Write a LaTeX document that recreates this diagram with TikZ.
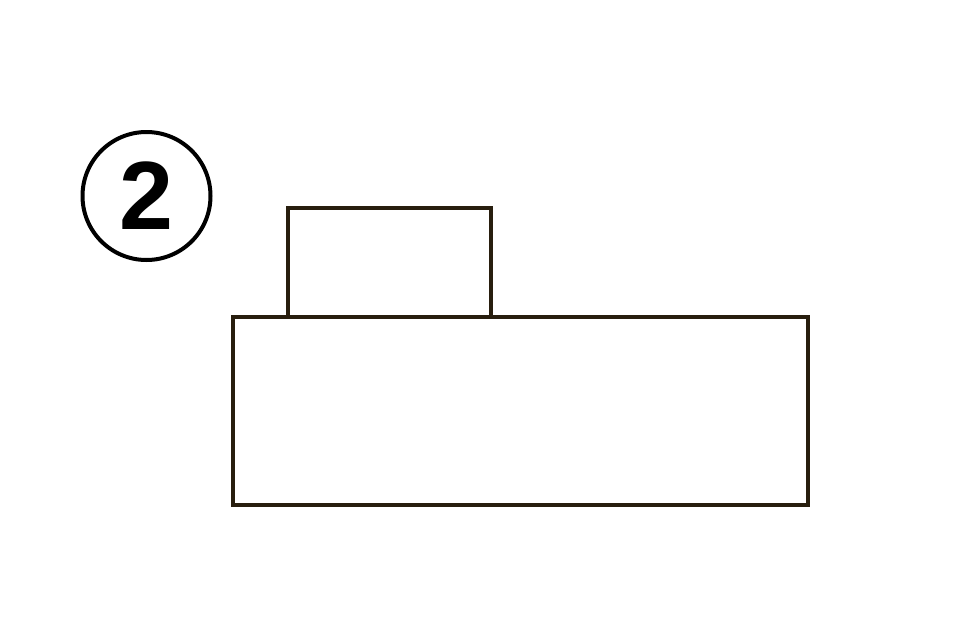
\documentclass[tikz,border=0pt]{standalone}
\usepackage{fontspec}
\setmainfont{Liberation Sans}
\usetikzlibrary{positioning}
\definecolor{boxline}{RGB}{40,30,14}

\begin{document}
\begin{tikzpicture}[x=1pt,y=-1pt,
    block/.style={draw=boxline,line width=3.8pt,inner sep=0pt,outer sep=0pt,
                  minimum width=#1},
    marker/.style={circle,draw=black,line width=4pt,inner sep=0pt,
                   minimum size=128pt,font=\fontsize{97}{97}\selectfont\bfseries}]
  \useasboundingbox[fill=white] (0,0) rectangle (960,640);
  \node[marker]                 (num)  at (146.5,196)                       {2};
  \node[block=575pt,minimum height=188pt,anchor=north west] (base) at (233,317) {};
  \node[block=203pt,minimum height=109pt,anchor=south west] (top)
       [above right=0pt and 55pt of base.north west]                        {};
\end{tikzpicture}
\end{document}
